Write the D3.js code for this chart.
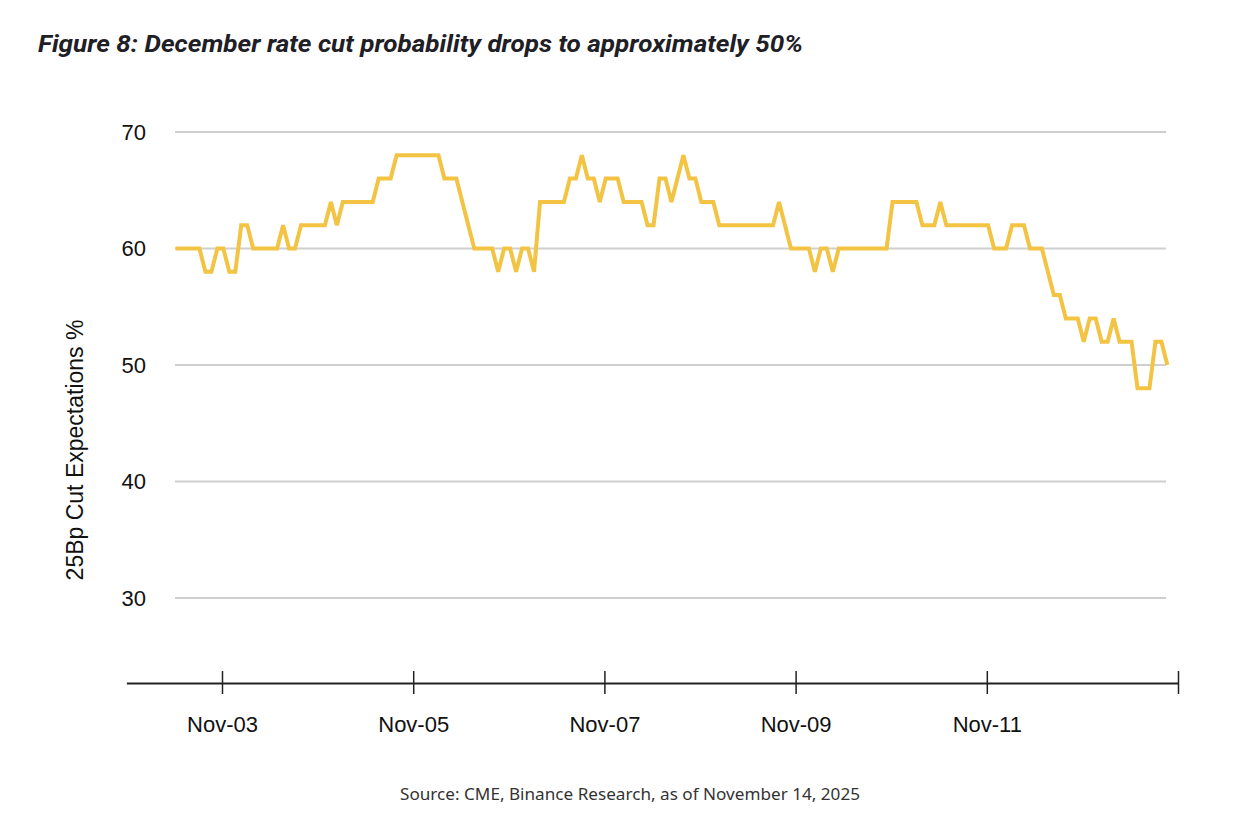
<!DOCTYPE html>
<html>
<head>
<meta charset="utf-8">
<script src="https://cdn.jsdelivr.net/npm/d3@7"></script>
<style>
  body { margin: 0; background: #fff; }
</style>
</head>
<body>
<svg id="chart"></svg>
<script>
// readings every 1.5 hours from Nov-02 12:00
const startTime = new Date(2025, 10, 2, 12, 20);
const stepHours = 1.5;
const cutProb = [
  60, 60, 60, 60, 60, 58, 58, 60, 60, 58, 58, 62, 62, 60, 60, 60, 60, 60, 62, 60,
  60, 62, 62, 62, 62, 62, 64, 62, 64, 64, 64, 64, 64, 64, 66, 66, 66, 68, 68, 68,
  68, 68, 68, 68, 68, 66, 66, 66, 64, 62, 60, 60, 60, 60, 58, 60, 60, 58, 60, 60,
  58, 64, 64, 64, 64, 64, 66, 66, 68, 66, 66, 64, 66, 66, 66, 64, 64, 64, 64, 62,
  62, 66, 66, 64, 66, 68, 66, 66, 64, 64, 64, 62, 62, 62, 62, 62, 62, 62, 62, 62,
  62, 64, 62, 60, 60, 60, 60, 58, 60, 60, 58, 60, 60, 60, 60, 60, 60, 60, 60, 60,
  64, 64, 64, 64, 64, 62, 62, 62, 64, 62, 62, 62, 62, 62, 62, 62, 62, 60, 60, 60,
  62, 62, 62, 60, 60, 60, 58, 56, 56, 54, 54, 54, 52, 54, 54, 52, 52, 54, 52, 52,
  52, 48, 48, 48, 52, 52, 50
];
const yTicks = [30, 40, 50, 60, 70];
const xTicks = [3, 5, 7, 9, 11, 13].map(d => new Date(2025, 10, d));
const xDomain = [new Date(2025, 10, 2), new Date(2025, 10, 13)];

const titleText = 'Figure 8: December rate cut probability drops to approximately 50%';
const yLabel = '25Bp Cut Expectations %';
const sourceText = 'Source: CME, Binance Research, as of November 14, 2025';

const width = 1238;
const height = 820;
const axisY = 683;

const svg = d3.select('#chart')
    .attr('width', width)
    .attr('height', height);

const x = d3.scaleTime()
    .domain(xDomain)
    .range([126.4, 1178]);

const y = d3.scaleLinear()
    .domain([30, 70])
    .range([598, 132]);

const series = cutProb.map((v, i) => ({
    t: new Date(startTime.getTime() + i * stepHours * 3600 * 1000),
    v: v
}));

// title
svg.append('text')
    .attr('x', 38)
    .attr('y', 52)
    .attr('font-family', 'Roboto, sans-serif')
    .attr('font-weight', 700)
    .attr('font-style', 'italic')
    .attr('font-size', 23)
    .attr('fill', '#1e2026')
    .attr('textLength', 765)
    .attr('lengthAdjust', 'spacingAndGlyphs')
    .text(titleText);

// grid + y labels
const grid = svg.append('g').attr('class', 'grid');
grid.selectAll('line')
    .data(yTicks)
    .join('line')
        .attr('x1', 175)
        .attr('x2', 1166)
        .attr('y1', d => y(d))
        .attr('y2', d => y(d))
        .attr('stroke', '#cfcfcf')
        .attr('stroke-width', 2);

grid.selectAll('text')
    .data(yTicks)
    .join('text')
        .attr('x', 146)
        .attr('y', d => y(d))
        .attr('dy', '0.36em')
        .attr('text-anchor', 'end')
        .attr('font-family', '"Liberation Sans", Arial, sans-serif')
        .attr('font-size', 22)
        .attr('fill', '#111')
        .text(d => d);

svg.append('text')
    .attr('transform', `translate(83, ${(y(70) + y(30)) / 2 + 85})rotate(-90)`)
    .attr('text-anchor', 'middle')
    .attr('font-family', '"Liberation Sans", Arial, sans-serif')
    .attr('font-size', 23)
    .attr('fill', '#111')
    .text(yLabel);

// x axis
const fmt = d3.timeFormat('%b-%d');
const xAxis = d3.axisBottom(x)
    .tickValues(xTicks)
    .tickSize(11)
    .tickSizeOuter(0)
    .tickPadding(22)
    .tickFormat((d, i) => i === xTicks.length - 1 ? '' : fmt(d));

const gx = svg.append('g')
    .attr('transform', `translate(0, ${axisY})`)
    .call(xAxis);

gx.select('.domain')
    .attr('stroke', '#222')
    .attr('stroke-width', 2);
gx.selectAll('.tick line')
    .attr('y1', -12)
    .attr('stroke', '#222')
    .attr('stroke-width', 1.5);
gx.selectAll('.tick text')
    .attr('font-family', '"Liberation Sans", Arial, sans-serif')
    .attr('font-size', 22)
    .attr('fill', '#111');

// line
const line = d3.line()
    .x(d => x(d.t))
    .y(d => y(d.v));

svg.append('path')
    .datum(series)
    .attr('fill', 'none')
    .attr('stroke', '#f3c443')
    .attr('stroke-width', 4)
    .attr('stroke-linejoin', 'miter')
    .attr('d', line);

// source
svg.append('text')
    .attr('x', 630)
    .attr('y', 800)
    .attr('text-anchor', 'middle')
    .attr('font-family', '"Noto Sans", sans-serif')
    .attr('font-size', 17)
    .attr('fill', '#333')
    .attr('textLength', 460)
    .attr('lengthAdjust', 'spacingAndGlyphs')
    .text(sourceText);
</script>
</body>
</html>
